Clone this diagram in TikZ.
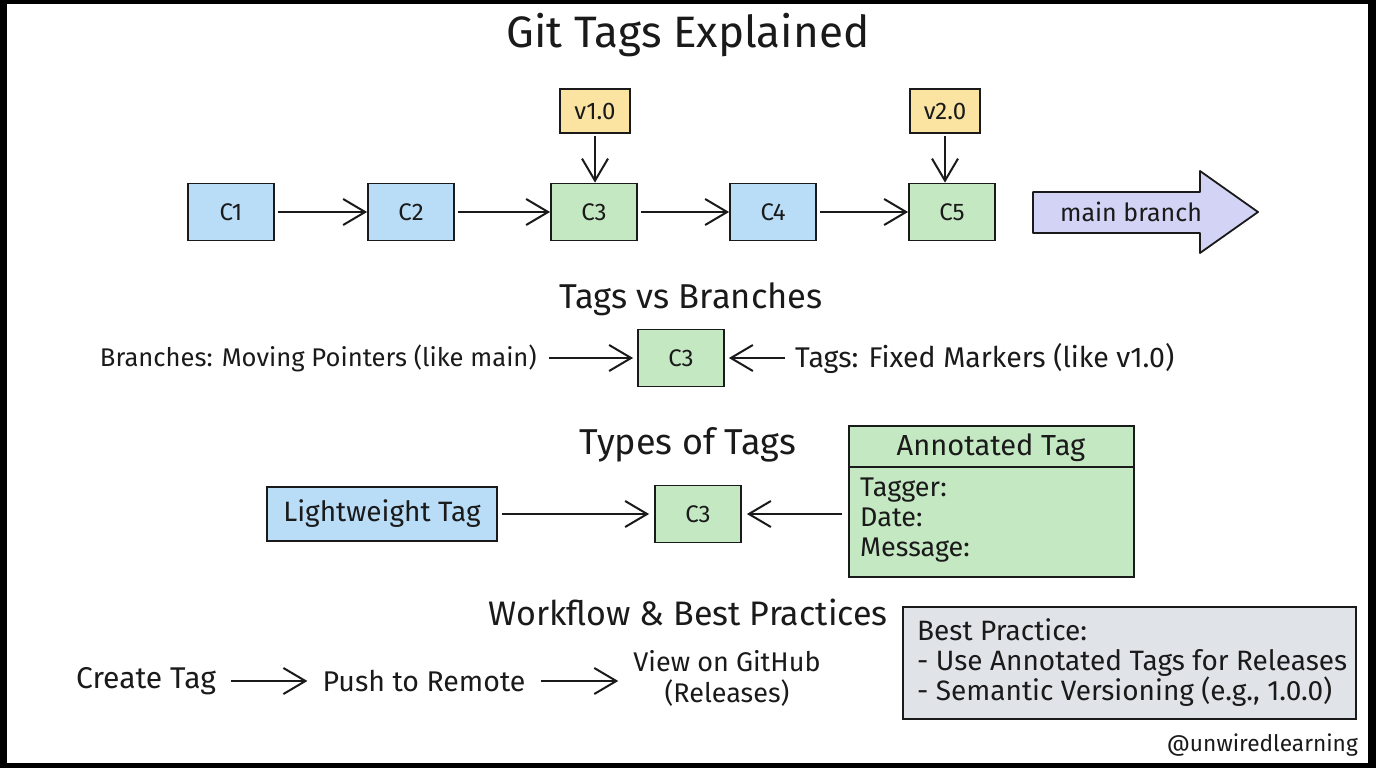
\documentclass[tikz,border=0pt]{standalone}
\usepackage{fontspec}
\setmainfont{Fira Sans}
\usetikzlibrary{arrows.meta}
\definecolor{ink}{HTML}{1A1A1A}
\definecolor{cblue}{HTML}{B9DCF7}
\definecolor{cgreen}{HTML}{C4E8C2}
\definecolor{cyellow}{HTML}{FBE3A2}
\definecolor{clav}{HTML}{D3D3F6}
\definecolor{cgrey}{HTML}{E0E4E9}
\tikzset{
  box/.style={draw=ink, line width=1.8pt, inner sep=0pt, text=ink},
  commit/.style={box, minimum width=86pt, minimum height=57pt, font=\fontsize{24}{28}\selectfont},
  tagbox/.style={box, fill=cyellow, minimum width=70pt, minimum height=44pt, font=\fontsize{24}{28}\selectfont},
  arr/.style={draw=ink, line width=2.2pt, -{Straight Barb[length=22pt,width=26pt,line width=2pt]}},
  lbl/.style={text=ink, inner sep=0pt, font=\fontsize{26}{31}\selectfont},
  head/.style={text=ink, inner sep=0pt, font=\fontsize{34}{40}\selectfont},
}
\begin{document}
\begin{tikzpicture}[x=1pt,y=-1pt]
\fill[black] (0,0) rectangle (1376,768);
\fill[white] (7,4) rectangle (1368,763);
\useasboundingbox (0,0) rectangle (1376,768);

% title
\node[text=ink, inner sep=0pt, font=\fontsize{44}{50}\selectfont] (title) at (688,35) {Git Tags Explained};

% commits row
\node[commit, fill=cblue]  (c1) at (231,212) {C1};
\node[commit, fill=cblue]  (c2) at (411,212) {C2};
\node[commit, fill=cgreen] (c3) at (594,212) {C3};
\node[commit, fill=cblue]  (c4) at (773,212) {C4};
\node[commit, fill=cgreen] (c5) at (952,212) {C5};
\node[tagbox] (v1) at (595,111) {v1.0};
\node[tagbox] (v2) at (945,111) {v2.0};
\draw[arr, shorten <=3pt] (c1) -- (c2);
\draw[arr, shorten <=3pt] (c2) -- (c3);
\draw[arr, shorten <=3pt] (c3) -- (c4);
\draw[arr, shorten <=3pt] (c4) -- (c5);
\draw[arr, shorten <=2pt] (v1.south) -- (v1.south |- c3.north);
\draw[arr, shorten <=2pt] (v2.south) -- (v2.south |- c5.north);

% main branch arrow
\draw[draw=ink, line width=1.8pt, fill=clav, line join=round]
  (1033,192) -- (1200,192) -- (1200,171) -- (1258,212) -- (1200,253) -- (1200,233) -- (1033,233) -- cycle;
\node[lbl, font=\fontsize{25}{28}\selectfont] (mb) at (1131,212) {main branch};

% tags vs branches
\node[head, font=\fontsize{34.5}{40}\selectfont] (h2) at (691,299) {Tags vs Branches};
\node[commit, fill=cgreen] (c3b) at (681,358) {C3};
\node[lbl, anchor=east, font=\fontsize{25.6}{30}\selectfont] (br) at (537,358) {Branches: Moving Pointers (like main)};
\node[lbl, anchor=west, font=\fontsize{28.5}{32}\selectfont] (tg) at (795,358) {Tags: Fixed Markers (like v1.0)};
\draw[arr, shorten <=12pt, shorten >=4pt] (br.east) -- (c3b.west);
\draw[arr, shorten <=10pt, shorten >=4pt] (tg.west) -- (c3b.east);

% types of tags
\node[head, font=\fontsize{36}{42}\selectfont] (h3) at (688,445) {Types of Tags};
\node[commit, fill=cgreen] (c3c) at (698,514) {C3};
\node[box, fill=cblue, minimum width=230pt, minimum height=54pt, font=\fontsize{28}{32}\selectfont] (lw) at (382,514) {Lightweight Tag};
\node[box, fill=cgreen, minimum width=285pt, minimum height=151pt] (ann) at (991.5,501.5) {};
\draw[draw=ink, line width=1.8pt] (ann.west |- 0,467) -- (ann.east |- 0,467);
\node[lbl, font=\fontsize{29}{32}\selectfont] (annh) at (991,448) {Annotated Tag};
\node[lbl, anchor=west, align=left, font=\fontsize{27}{30}\selectfont] (annb) at (860,520) {Tagger:\\Date:\\Message:};
\draw[arr, shorten <=4pt, shorten >=5pt] (lw.east) -- (c3c.west);
\draw[arr, shorten <=6pt, shorten >=5pt] (ann.west |- c3c.east) -- (c3c.east);

% workflow
\node[head] (h4) at (688,612) {Workflow \& Best Practices};
\node[lbl, font=\fontsize{30}{34}\selectfont] (ct) at (146,681) {Create Tag};
\node[lbl, font=\fontsize{28.5}{32}\selectfont] (pr) at (424,681) {Push to Remote};
\node[lbl, align=center, font=\fontsize{27}{31}\selectfont] (gh) at (727,678) {View on GitHub\\(Releases)};
\draw[arr, shorten <=15pt, shorten >=15pt] (ct.east) -- (pr.west);
\draw[arr, shorten <=15pt, shorten >=15pt] (pr.east) -- (gh.west |- pr.east);

% best practice box
\node[box, fill=cgrey, minimum width=453pt, minimum height=112pt] (bp) at (1129.5,663) {};
\node[lbl, anchor=west, align=left, font=\fontsize{28}{30}\selectfont] (bpt) at (917,663) {Best Practice:\\- Use Annotated Tags for Releases\\- Semantic Versioning (e.g., 1.0.0)};

\node[lbl, anchor=east, font=\fontsize{22.7}{26}\selectfont] (sig) at (1358,745) {@unwiredlearning};
\end{tikzpicture}
\end{document}
